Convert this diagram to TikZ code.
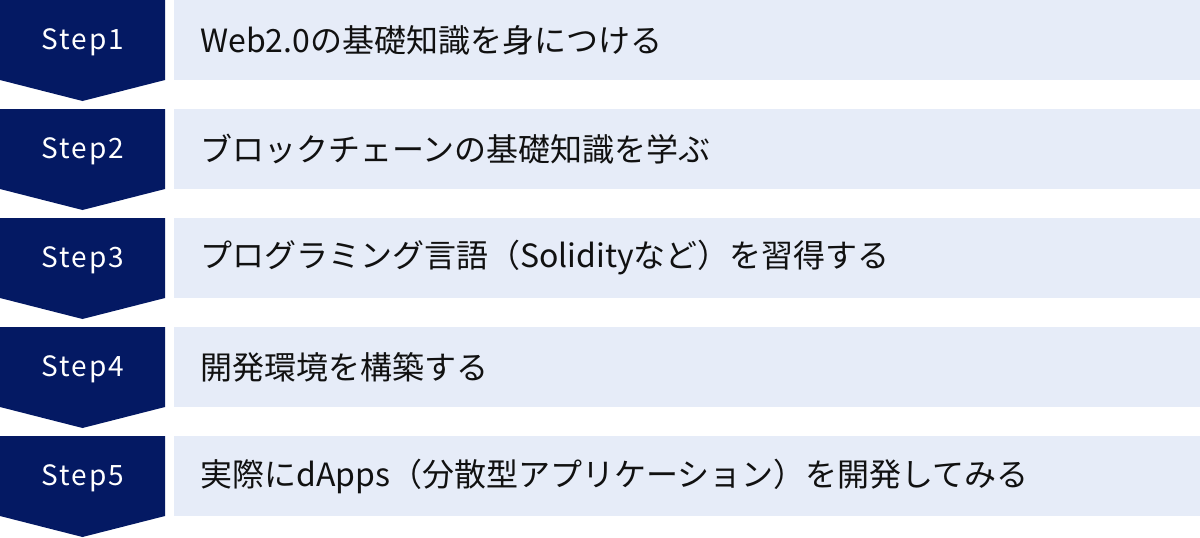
\documentclass[tikz,border=0pt]{standalone}
\usepackage{fontspec}
\setmainfont{Noto Sans CJK JP}
\usepackage{xcolor}
\usepackage{tikz}
\definecolor{navy}{HTML}{041963}
\definecolor{pale}{HTML}{E6ECF8}
\definecolor{ink}{HTML}{111111}
\tikzset{
  stepshape/.style={fill=navy, draw=none},
  bar/.style={fill=pale, draw=none},
  steplab/.style={text=white, font=\fontsize{28}{32}\selectfont\addfontfeatures{LetterSpace=7}, inner sep=0pt},
  txt/.style={text=ink, font=\fontsize{32}{38}\selectfont, anchor=west, inner sep=0pt},
}
\begin{document}
\begin{tikzpicture}[x=1pt,y=-1pt]
  \useasboundingbox (0,0) rectangle (1200,538);
  \foreach \n/\lab in {1/Web2.0の基礎知識を身につける,
                       2/ブロックチェーンの基礎知識を学ぶ,
                       3/プログラミング言語（Solidityなど）を習得する,
                       4/開発環境を構築する,
                       5/実際にdApps（分散型アプリケーション）を開発してみる}{
    \pgfmathsetmacro{\top}{(\n-1)*109}
    \fill[stepshape] (0,\top) -- (165,\top) -- (165,\top+80) -- (82.5,\top+101) -- (0,\top+80) -- cycle;
    \fill[bar] (174,\top) rectangle (1200,\top+80);
    \node[steplab] (s\n) at (83,\top+42) {Step\n};
    \node[txt] (t\n) at (200,\top+40) {\lab};
  }
\end{tikzpicture}
\end{document}
